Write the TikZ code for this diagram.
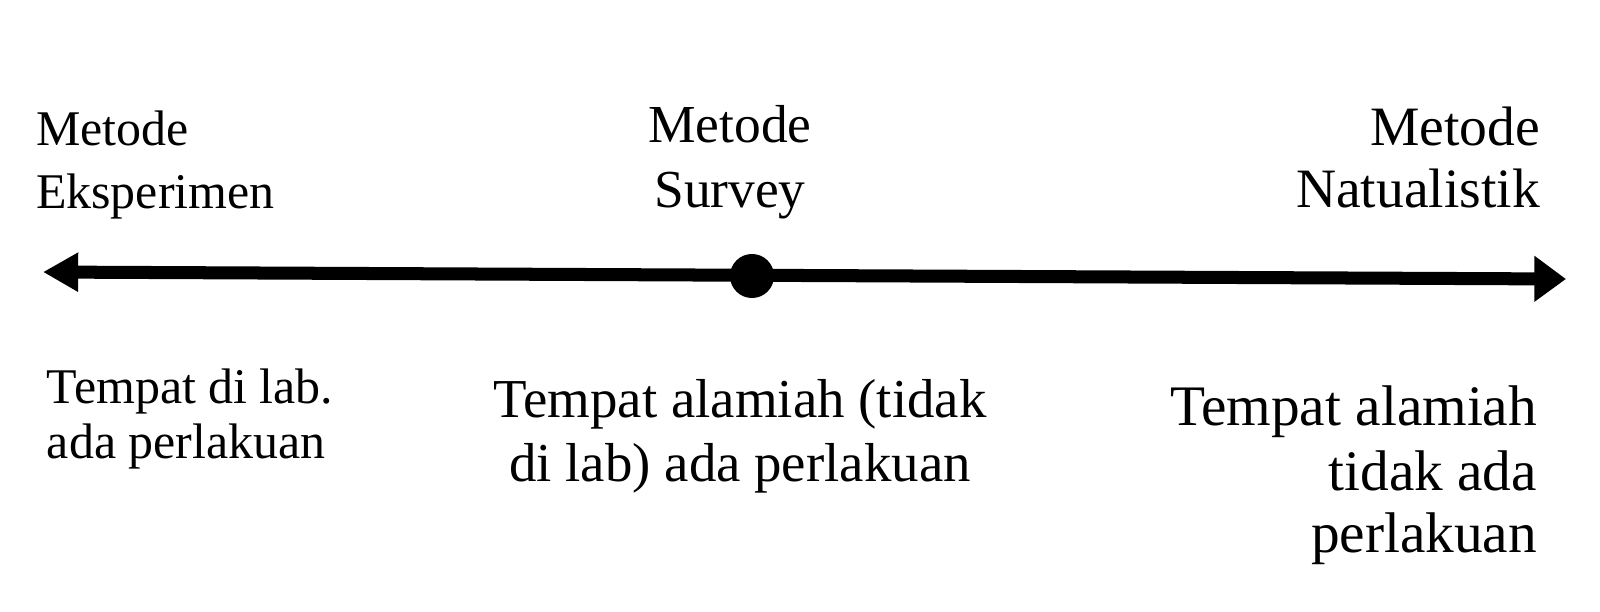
\documentclass[tikz,border=0pt]{standalone}
\usepackage{fontspec}
\setmainfont{Liberation Serif}
\usetikzlibrary{arrows.meta}
\begin{document}
\begin{tikzpicture}[x=0.01cm,y=0.01cm,
  lbl/.style={inner sep=0pt, outer sep=0pt, text=black},
  fa/.style={font=\fontsize{14.2}{16}\selectfont},
  fb/.style={font=\fontsize{15.2}{18}\selectfont},
  fbb/.style={font=\fontsize{15.6}{18}\selectfont},
  fc/.style={font=\fontsize{15.8}{18}\selectfont},
  fd/.style={font=\fontsize{16.3}{18}\selectfont},
  axis/.style={line width=3.7pt, draw=black,
    {Triangle[length=10pt,width=10.5pt]}-{Triangle[length=9pt,width=12.5pt]}},
  dotnode/.style={circle, fill=black, inner sep=0pt, minimum size=0.44cm}]
\useasboundingbox[fill=white] (0,0) rectangle (1600,611);
% axis
\coordinate (L) at (43,339);
\coordinate (R) at (1566,332);
\draw[axis] (L) -- (R);
\node[dotnode] (dot) at (752,335) {};
% top labels
\node[lbl,fa,anchor=base west] (t1a) at (36,466) {Metode};
\node[lbl,fa,anchor=base west] (t1b) at (36,403) {Eksperimen};
\node[lbl,fb,anchor=base] (t2a) at (730,469) {Metode};
\node[lbl,fb,anchor=base] (t2b) at (730,404) {Survey};
\node[lbl,fc,anchor=base east] (t3a) at (1540,466) {Metode};
\node[lbl,fc,anchor=base east] (t3b) at (1540,404) {Natualistik};
% bottom labels
\node[lbl,fa,anchor=base west] (b1a) at (47,208) {Tempat di lab.};
\node[lbl,fa,anchor=base west] (b1b) at (47,153) {ada perlakuan};
\node[lbl,fbb,anchor=base] (b2a) at (740,194) {Tempat alamiah (tidak};
\node[lbl,fbb,anchor=base] (b2b) at (740,130) {di lab) ada perlakuan};
\node[lbl,fd,anchor=base east] (b3a) at (1537,186) {Tempat alamiah};
\node[lbl,fd,anchor=base east] (b3b) at (1537,121) {tidak ada};
\node[lbl,fd,anchor=base east] (b3c) at (1537,59) {perlakuan};
\end{tikzpicture}
\end{document}
